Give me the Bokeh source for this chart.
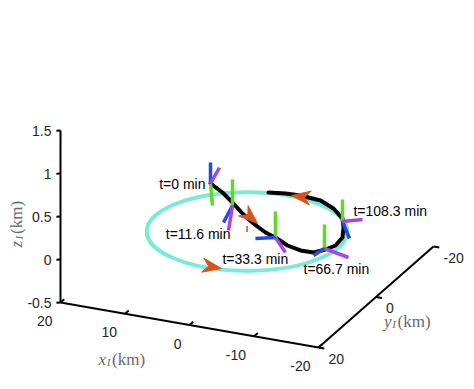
import numpy as np
from bokeh.plotting import figure
from bokeh.models import Range1d
from bokeh.core.properties import value
from bokeh.embed import file_html
from bokeh.resources import INLINE

# ---------------- data (km) ----------------
# relative trajectory (black), inertial frame I
traj_x = [5.46, 2.58, -0.19, -3.10, -6.00, -8.87, -10.90, -13.63, -16.05, -18.03,
          -19.14, -19.84, -19.57, -18.23, -16.77, -14.13, -11.28, -7.95, -5.72, -3.37]
traj_y = [0.45, 2.73, 5.46, 8.52, 11.19, 13.47, 14.55, 16.50, 17.40, 17.32,
          15.63, 13.73, 10.69, 7.33, 4.41, 1.62, -0.27, -0.77, -0.57, 0.08]
traj_z = [0.5, 0.5, 0.5, 0.5, 0.5, 0.5, 0.5, 0.5, 0.5, 0.5,
          0.5, 0.5, 0.5, 0.5, 0.5, 0.5, 0.5, 0.5, 0.5, 0.5]

# reference circular orbit (cyan)
orbit_radius = 14.2
orbit_z = 0.0

# attitude snapshots
snap_labels = ["t=0 min", "t=11.6 min", "t=33.3 min", "t=66.7 min", "t=108.3 min"]
snap_x = [5.46, -0.63, -10.90, -18.86, -17.21]
snap_y = [0.45, 6.45, 14.55, 15.36, 5.40]
snap_z = [0.5, 0.5, 0.5, 0.5, 0.5]
# body axes at each snapshot (dx, dz components, km)
green_dx = [-0.31, 0.0, 0.0, 0.0, 0.0]
green_dz = [-0.252, 0.302, 0.302, 0.279, 0.256]
blue_dx = [0.0, 1.40, 3.10, 1.71, -1.09]
blue_dz = [0.244, -0.216, -0.052, -0.104, -0.183]
purple_dx = [-1.40, 0.62, -1.55, -3.72, -3.10]
purple_dz = [0.204, -0.299, -0.154, -0.056, 0.064]

# direction arrows (tip position and direction)
arrow_x = [-2.15, -6.51, -6.79]
arrow_y = [13.70, 10.96, -0.25]
arrow_z = [0.0, 0.5, 0.5]
arrow_dx = [-1.0, -2.90, 2.24]
arrow_dy = [0.0, 2.67, 0.20]
arrow_dz = [0.0, 0.0, 0.0]

# axes
x_ticks = [20, 10, 0, -10, -20]
y_ticks = [20, 0, -20]
z_ticks = [-0.5, 0, 0.5, 1, 1.5]
z_tick_labels = ["-0.5", "0", "0.5", "1", "1.5"]
x_lim = (-20, 20)
y_lim = (-20, 20)
z_lim = (-0.5, 1.5)

# ---------------- projection (view) ----------------
W, H = 466, 381
OX, OY = 246.5, 231.0
EX = (-6.45, -1.125)
EY = (-2.875, 2.525)
EZ = (0.0, -86.0)
TS = -4.5  # text baseline correction (px)


def proj(x, y, z):
    x = np.asarray(x, float)
    y = np.asarray(y, float)
    z = np.asarray(z, float)
    px = OX + EX[0] * x + EY[0] * y + EZ[0] * z
    py = OY + EX[1] * x + EY[1] * y + EZ[1] * z
    return px, py


def dv(py):
    return H - np.asarray(py, float)


p = figure(width=W, height=H, output_backend="svg", toolbar_location=None,
           x_range=Range1d(0, W), y_range=Range1d(0, H),
           x_axis_type=None, y_axis_type=None, min_border=0)
p.outline_line_color = None
p.grid.visible = False
p.background_fill_color = "white"

CYAN = "#7aebd8"
GREEN = "#62d82a"
BLUE = "#2a46e6"
PURPLE = "#a646e6"
ORANGE = "#d95319"
TICKC = "#262626"
LABC = "#6a6a6a"

# --- cyan orbit: image of circle under projection is an ellipse
M = np.array([[EX[0], EY[0]], [-EX[1], -EY[1]]]) * orbit_radius
U, S, Vt = np.linalg.svd(M)
cx, cy = proj(0, 0, orbit_z)
p.ellipse(x=[float(cx)], y=[float(dv(cy))], width=2 * S[0], height=2 * S[1],
          angle=float(np.arctan2(U[1, 0], U[0, 0])), fill_color=None,
          line_color=CYAN, line_width=4)

# --- black trajectory
tx, ty = proj(traj_x, traj_y, traj_z)
p.line(tx, dv(ty), line_color="black", line_width=4, line_join="round", line_cap="round")

# --- triads
sx, sy = proj(snap_x, snap_y, snap_z)
for dx_, dz_, col in [(green_dx, green_dz, GREEN), (blue_dx, blue_dz, BLUE),
                      (purple_dx, purple_dz, PURPLE)]:
    ex, ey = proj(np.add(snap_x, dx_), snap_y, np.add(snap_z, dz_))
    p.segment(x0=sx, y0=dv(sy), x1=ex, y1=dv(ey), line_color=col, line_width=3.5)

# --- arrows
ax_, ay_ = proj(arrow_x, arrow_y, arrow_z)
xs, ys = [], []
L, Wd, notch = 19.0, 14.0, 6.0
for i in range(len(arrow_x)):
    ux = EX[0] * arrow_dx[i] + EY[0] * arrow_dy[i] + EZ[0] * arrow_dz[i]
    uy = EX[1] * arrow_dx[i] + EY[1] * arrow_dy[i] + EZ[1] * arrow_dz[i]
    n = np.hypot(ux, uy)
    ux, uy = ux / n, uy / n
    nx, ny = -uy, ux
    tipx, tipy = ax_[i], ay_[i]
    px_ = [tipx, tipx - L * ux + Wd / 2 * nx, tipx - (L - notch) * ux, tipx - L * ux - Wd / 2 * nx]
    py_ = [tipy, tipy - L * uy + Wd / 2 * ny, tipy - (L - notch) * uy, tipy - L * uy - Wd / 2 * ny]
    xs.append([float(v) for v in px_])
    ys.append([float(v) for v in dv(py_)])
p.patches(xs, ys, fill_color=ORANGE, line_color=ORANGE, line_width=1)

# --- snapshot labels
lab_align = ["right", "right", "left", "left", "left"]
lab_off_x = [-5, -2, -53, -21, 11]
lab_off_y = [5, 33, 26, 25, -6]
for al in ["left", "right"]:
    idx = [i for i in range(len(snap_labels)) if lab_align[i] == al]
    p.text(x=[float(sx[i] + lab_off_x[i]) for i in idx],
           y=[float(dv(sy[i] + lab_off_y[i] + TS)) for i in idx],
           text=[snap_labels[i] for i in idx], text_align=al, text_baseline="alphabetic",
           text_font=value("Liberation Sans"), text_font_size="14px", text_color="black")

# frame origin label
ox_, oy_ = proj(0, 0, 0)
p.text(x=[float(ox_)], y=[float(dv(oy_ + 2 + TS))], text=["I"], text_align="center",
       text_baseline="alphabetic", text_font=value("Liberation Sans"),
       text_font_size="9px", text_color="black")

# --- axis box lines
x0, y0 = x_lim[1], y_lim[1]
za = proj([x0, x0], [y0, y0], [z_lim[0], z_lim[1]])
xa = proj([x_lim[1], x_lim[0]], [y0, y0], [z_lim[0], z_lim[0]])
ya = proj([x_lim[0], x_lim[0]], [y_lim[1], y_lim[0]], [z_lim[0], z_lim[0]])
for a in (za, xa, ya):
    p.line(a[0], dv(a[1]), line_color="black", line_width=2)

# ticks
nz = len(z_ticks)
zt0 = proj([x0] * nz, [y0] * nz, z_ticks)
zt1 = proj(np.array([x0] * nz) + 0.5, np.array([y0] * nz) + 0.3, z_ticks)
p.segment(zt0[0], dv(zt0[1]), zt1[0], dv(zt1[1]), line_color="black", line_width=2)
nx_ = len(x_ticks)
xt0 = proj(x_ticks, [y0] * nx_, [z_lim[0]] * nx_)
xt1 = proj(x_ticks, [y0 - 1.3] * nx_, [z_lim[0]] * nx_)
p.segment(xt0[0], dv(xt0[1]), xt1[0], dv(xt1[1]), line_color="black", line_width=2)
ny_ = len(y_ticks)
yt0 = proj([x_lim[0]] * ny_, y_ticks, [z_lim[0]] * ny_)
yt1 = proj([x_lim[0] - 0.9] * ny_, y_ticks, [z_lim[0]] * ny_)
p.segment(yt0[0], dv(yt0[1]), yt1[0], dv(yt1[1]), line_color="black", line_width=2)

# tick labels
font = value("Liberation Sans")
p.text(x=zt0[0] - 9, y=dv(zt0[1] + 5 + TS), text=z_tick_labels, text_align="right",
       text_baseline="alphabetic", text_font=font, text_font_size="14px", text_color=TICKC)
p.text(x=xt0[0] - 8, y=dv(xt0[1] + 23 + TS), text=[str(t) for t in x_ticks], text_align="right",
       text_baseline="alphabetic", text_font=font, text_font_size="14px", text_color=TICKC)
p.text(x=yt0[0] + 10, y=dv(yt0[1] + 15.5 + TS), text=[str(t) for t in y_ticks], text_align="left",
       text_baseline="alphabetic", text_font=font, text_font_size="14px", text_color=TICKC)

# axis labels (italic symbol, subscript I, unit)
serif = value("Liberation Serif")


def hlabel(sym, bx, by):
    by = by + TS
    p.text(x=[bx], y=[H - by], text=[sym], text_font=serif, text_font_style="italic",
           text_font_size="17px", text_color=LABC, text_baseline="alphabetic")
    p.text(x=[bx + 8.3], y=[H - by - 3], text=["I"], text_font=serif,
           text_font_style="italic", text_font_size="11px", text_color=LABC,
           text_baseline="alphabetic")
    p.text(x=[bx + 13.5], y=[H - by], text=["(km)"], text_font=serif,
           text_font_size="17px", text_color=LABC, text_baseline="alphabetic")


hlabel("x", 98, 363)
hlabel("y", 383.5, 325)

# z label (rotated)
zb = 20 + TS
p.text(x=[zb], y=[H - 245 - 2], text=["z"], text_font=serif, text_font_style="italic",
       text_font_size="17px", text_color=LABC, text_baseline="alphabetic", angle=np.pi / 2)
p.text(x=[zb + 3], y=[H - 237 - 2], text=["I"], text_font=serif, text_font_style="italic",
       text_font_size="11px", text_color=LABC, text_baseline="alphabetic", angle=np.pi / 2)
p.text(x=[zb], y=[H - 231.5 - 2], text=["(km)"], text_font=serif, text_font_size="17px",
       text_color=LABC, text_baseline="alphabetic", angle=np.pi / 2)

open("out.html", "w").write(file_html(p, INLINE))
